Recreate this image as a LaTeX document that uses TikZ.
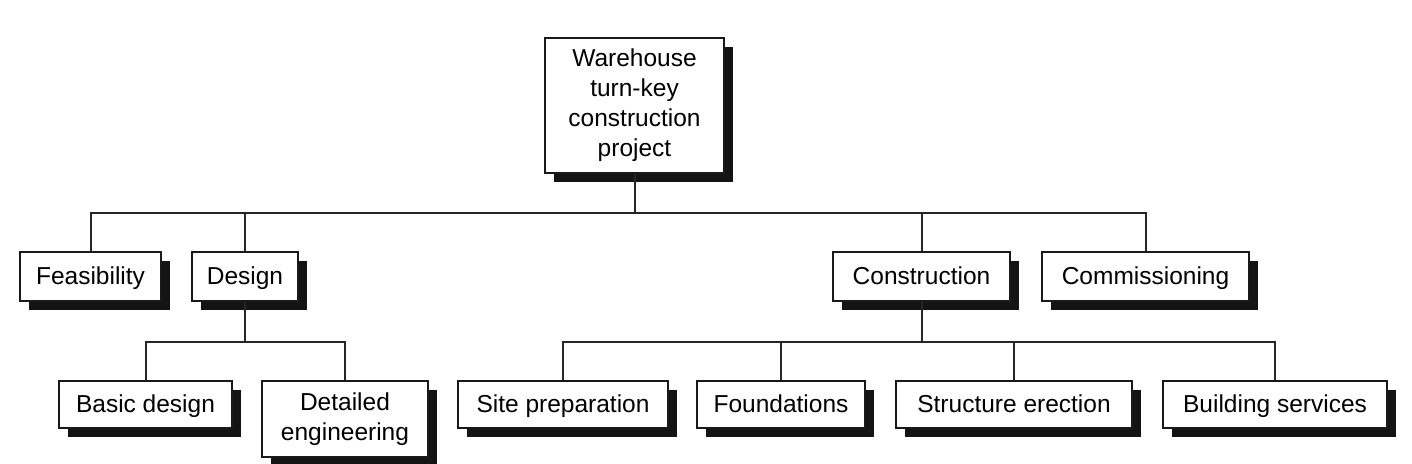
\documentclass[tikz,border=0pt]{standalone}
\usepackage{fontspec}
\setmainfont{Liberation Sans}
\usetikzlibrary{shadows}
\begin{document}
\begin{tikzpicture}[x=1pt,y=-1pt,
  wbs/.style={draw=black!90, fill=white, line width=1.8pt, inner sep=0pt,
    align=center, font=\fontsize{24.5}{30}\selectfont,
    drop shadow={shadow xshift=9pt, shadow yshift=-9pt, fill=black!92, opacity=1}},
  one/.style={text height=20pt, text depth=4pt},
  conn/.style={line width=2pt, draw=black!85}]
\useasboundingbox (0,0) rectangle (1412,463);
\node[wbs, minimum width=179pt, minimum height=135pt] (top) at (634.5,105.5) {Warehouse\\turn-key\\construction\\project};
\node[wbs, one, minimum width=141pt, minimum height=49pt] (feas) at (90.5,276.5) {Feasibility};
\node[wbs, one, minimum width=106pt, minimum height=49pt] (design) at (245,276.5) {Design};
\node[wbs, one, minimum width=177pt, minimum height=49pt] (constr) at (921.5,276.5) {Construction};
\node[wbs, one, minimum width=207pt, minimum height=49pt] (comm) at (1145.5,276.5) {Commissioning};
\node[wbs, one, minimum width=173pt, minimum height=47pt] (basic) at (145.5,404.5) {Basic design};
\node[wbs, minimum width=166pt, minimum height=76pt] (detail) at (345,419) {Detailed\\engineering};
\node[wbs, one, minimum width=210pt, minimum height=47pt] (site) at (563,404.5) {Site preparation};
\node[wbs, one, minimum width=168pt, minimum height=47pt] (found) at (781,404.5) {Foundations};
\node[wbs, one, minimum width=236pt, minimum height=47pt] (struct) at (1014,404.5) {Structure erection};
\node[wbs, one, minimum width=224pt, minimum height=47pt] (build) at (1275,404.5) {Building services};
\coordinate (b1) at (634.5,213);
\coordinate (b2) at (245,342);
\coordinate (b3) at (921.5,342);
\draw[conn] (top.south) -- (b1);
\draw[conn] (feas.north) |- (b1) -| (comm.north);
\draw[conn] (design.north) -- (design.north |- b1);
\draw[conn] (constr.north) -- (constr.north |- b1);
\draw[conn] (design.south) -- (b2);
\draw[conn] (basic.north) |- (b2) -| (detail.north);
\draw[conn] (constr.south) -- (b3);
\draw[conn] (site.north) |- (b3) -| (build.north);
\draw[conn] (found.north) -- (found.north |- b3);
\draw[conn] (struct.north) -- (struct.north |- b3);
\end{tikzpicture}
\end{document}
